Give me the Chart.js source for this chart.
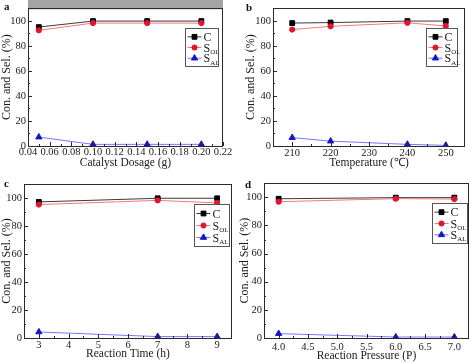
<!DOCTYPE html>
<html><head><meta charset="utf-8">
<script src="https://cdn.jsdelivr.net/npm/chart.js@4.4.1/dist/chart.umd.min.js"></script>
<style>
body{margin:0;background:#fff;width:474px;height:363px;overflow:hidden;position:relative}
canvas{position:absolute}
.lt{position:absolute;font:bold 11px 'Liberation Serif',serif;color:#111}
</style></head><body>
<canvas id="pa" width="237" height="172" style="left:0;top:0"></canvas>
<canvas id="pb" width="240" height="172" style="left:234px;top:0"></canvas>
<canvas id="pc" width="237" height="188" style="left:0;top:175px"></canvas>
<canvas id="pd" width="240" height="188" style="left:234px;top:175px"></canvas>
<div class="lt" style="left:4px;top:0px">a</div>
<div class="lt" style="left:246px;top:1px">b</div>
<div class="lt" style="left:4px;top:177px">c</div>
<div class="lt" style="left:245px;top:178px">d</div>
<script>
// ---- data ----
const seriesNames = ['C', 'S|OL', 'S|AL'];
const yTitle = 'Con. and Sel. (%)';
const yTicks = [0, 20, 40, 60, 80, 100];

const dosage = [0.05, 0.10, 0.15, 0.20];
const dosageC = [95.0, 99.8, 99.8, 99.8];
const dosageSOL = [92.4, 98.2, 98.2, 98.2];
const dosageSAL = [7.1, 1.3, 1.3, 1.3];
const dosageTicks = [0.04, 0.06, 0.08, 0.10, 0.12, 0.14, 0.16, 0.18, 0.20, 0.22];

const temperature = [210, 220, 240, 250];
const tempC = [98.2, 98.6, 99.8, 99.8];
const tempSOL = [93.0, 95.6, 98.4, 95.9];
const tempSAL = [6.7, 3.9, 1.3, 0.5];
const tempTicks = [210, 220, 230, 240, 250];

const time = [3, 7, 9];
const timeC = [97.2, 99.8, 99.8];
const timeSOL = [95.3, 98.3, 96.5];
const timeSAL = [4.3, 1.0, 1.0];
const timeTicks = [3, 4, 5, 6, 7, 8, 9];

const pressure = [4.0, 6.0, 7.0];
const presC = [99.0, 99.8, 99.8];
const presSOL = [96.9, 99.1, 98.8];
const presSAL = [3.1, 0.7, 0.7];
const presTicks = [4.0, 4.5, 5.0, 5.5, 6.0, 6.5, 7.0];

// ---- styles ----
const FONT = "'Liberation Serif','Times New Roman',serif";
Chart.defaults.font.family = FONT;
Chart.defaults.color = '#1a1a1a';
const styles = [
  {line: '#3a3a3a', mark: '#000000', pt: 'rect', r: 3.4},
  {line: '#f27a7a', mark: '#e3142e', pt: 'circle', r: 2.6},
  {line: '#7878ff', mark: '#1414c8', pt: 'triangle', r: 3.6}
];

function framePlugin(cfg) {
  return {
    id: 'frame',
    afterDatasetsDraw(chart) {
      const ctx = chart.ctx, a = chart.chartArea;
      const xs = chart.scales.x, ys = chart.scales.y;
      ctx.save();
      if (cfg.band) {
        ctx.fillStyle = '#a4a4a4';
        ctx.fillRect(a.left, 0, a.right - a.left, a.top + 1);
      }
      ctx.strokeStyle = '#2a2a2a';
      ctx.lineWidth = 1;
      ctx.strokeRect(Math.round(a.left) + 0.5, Math.round(a.top) + 0.5,
                     Math.round(a.right - a.left) - 1, Math.round(a.bottom - a.top));
      ctx.beginPath();
      const xt = cfg.xTicks;
      for (let i = 0; i < xt.length; i++) {
        const px = Math.round(xs.getPixelForValue(xt[i])) + 0.5;
        ctx.moveTo(px, a.bottom); ctx.lineTo(px, a.bottom - 4);
        if (i < xt.length - 1) {
          const mx = Math.round(xs.getPixelForValue((xt[i] + xt[i + 1]) / 2)) + 0.5;
          ctx.moveTo(mx, a.bottom); ctx.lineTo(mx, a.bottom - 2);
        }
      }
      for (let i = 0; i < yTicks.length; i++) {
        const py = Math.round(ys.getPixelForValue(yTicks[i])) + 0.5;
        ctx.moveTo(a.left, py); ctx.lineTo(a.left + 4, py);
        const my = Math.round(ys.getPixelForValue(yTicks[i] + 10)) + 0.5;
        ctx.moveTo(a.left, my); ctx.lineTo(a.left + 2, my);
      }
      ctx.stroke();

      // legend
      const w = cfg.leg.w, h = cfg.leg.h;
      const bx = Math.round(a.right - cfg.leg.gap - w) + 0.5;
      const by = Math.round(a.top + 20) + 0.5;
      ctx.fillStyle = '#fff';
      ctx.fillRect(bx, by, w, h);
      ctx.strokeStyle = '#555';
      ctx.strokeRect(bx, by, w, h);
      const rowH = (h - 6) / 3;
      seriesNames.forEach((name, i) => {
        const st = styles[i];
        const cy = by + 3 + rowH * (i + 0.5);
        ctx.strokeStyle = st.line;
        ctx.lineWidth = 1;
        ctx.beginPath();
        ctx.moveTo(bx + 2, cy); ctx.lineTo(bx + 16, cy);
        ctx.stroke();
        ctx.fillStyle = st.mark; ctx.strokeStyle = st.mark;
        Chart.helpers.drawPoint(ctx, {pointStyle: st.pt, radius: st.r, rotation: 0, borderWidth: 1}, bx + 9, cy);
        ctx.fillStyle = '#1a1a1a';
        ctx.textBaseline = 'alphabetic';
        ctx.textAlign = 'left';
        const parts = name.split('|');
        ctx.font = '12px ' + FONT;
        ctx.fillText(parts[0], bx + 18, cy + 4);
        if (parts[1]) {
          const wS = ctx.measureText(parts[0]).width;
          ctx.font = '7px ' + FONT;
          ctx.fillText(parts[1], bx + 18 + wS, cy + 6.5);
        }
      });
      ctx.restore();
    }
  };
}

function makePanel(id, xs, c, sol, sal, cfg) {
  const canvas = document.getElementById(id);
  const W = canvas.width, H = canvas.height;
  const series = [c, sol, sal];
  const datasets = series.map((vals, i) => ({
    label: seriesNames[i],
    data: xs.map((x, j) => ({x: x, y: vals[j]})),
    borderColor: styles[i].line,
    borderWidth: 1,
    pointStyle: styles[i].pt,
    pointRadius: styles[i].r,
    pointBackgroundColor: styles[i].mark,
    pointBorderColor: styles[i].mark,
    pointBorderWidth: 1,
    tension: 0,
    order: 3 - i
  }));
  new Chart(canvas, {
    type: 'line',
    data: {datasets},
    options: {
      responsive: false,
      animation: false,
      events: [],
      layout: {padding: {left: 0, top: cfg.area.t, right: W - cfg.area.r, bottom: 0}},
      plugins: {legend: {display: false}, tooltip: {enabled: false}},
      scales: {
        x: {
          type: 'linear', min: cfg.xMin, max: cfg.xMax,
          grid: {display: false, drawTicks: false},
          border: {display: false},
          afterFit(s) { s.height = H - cfg.area.b; },
          afterBuildTicks(s) { s.ticks = cfg.xTicks.map(v => ({value: v})); },
          ticks: {font: {size: 10.5}, padding: cfg.xtp, maxRotation: 0, autoSkip: false,
                  callback: v => Number(v).toFixed(cfg.dec)},
          title: {display: true, text: cfg.xTitle, font: {size: 11.5}, padding: {top: 0, bottom: cfg.xtb}}
        },
        y: {
          type: 'linear', min: 0, max: 110,
          grid: {display: false, drawTicks: false},
          border: {display: false},
          afterFit(s) { s.width = cfg.area.l; },
          afterBuildTicks(s) { s.ticks = yTicks.map(v => ({value: v})); },
          ticks: {font: {size: 10.5}, padding: 2},
          title: {display: true, text: yTitle, font: {size: 12}, padding: {top: cfg.ytp, bottom: 0}}
        }
      }
    },
    plugins: [framePlugin(cfg)]
  });
}

makePanel('pa', dosage, dosageC, dosageSOL, dosageSAL, {
  area: {l: 28, r: 223, t: 3, b: 146}, xMin: 0.04, xMax: 0.22, xTicks: dosageTicks, dec: 2,
  xTitle: 'Catalyst Dosage (g)', xtp: 0, xtb: 2, ytp: 0, leg: {w: 33, h: 38, gap: 5}, band: true
});
makePanel('pb', temperature, tempC, tempSOL, tempSAL, {
  area: {l: 39, r: 231, t: 4, b: 146}, xMin: 205, xMax: 255, xTicks: tempTicks, dec: 0,
  xTitle: 'Temperature (\u2103)', xtp: 1, xtb: 2, ytp: 10, leg: {w: 31, h: 38, gap: 8}
});
makePanel('pc', time, timeC, timeSOL, timeSAL, {
  area: {l: 24, r: 233, t: 9, b: 163}, xMin: 2.5, xMax: 9.5, xTicks: timeTicks, dec: 0,
  xTitle: 'Reaction Time (h)', xtp: 1, xtb: 2, ytp: 0, leg: {w: 35, h: 42, gap: 3}
});
makePanel('pd', pressure, presC, presSOL, presSAL, {
  area: {l: 30, r: 238, t: 8, b: 163}, xMin: 3.75, xMax: 7.25, xTicks: presTicks, dec: 1,
  xTitle: 'Reaction Pressure (P)', xtp: 3, xtb: 0, ytp: 4, leg: {w: 35, h: 40, gap: 2}
});
</script>
</body></html>
